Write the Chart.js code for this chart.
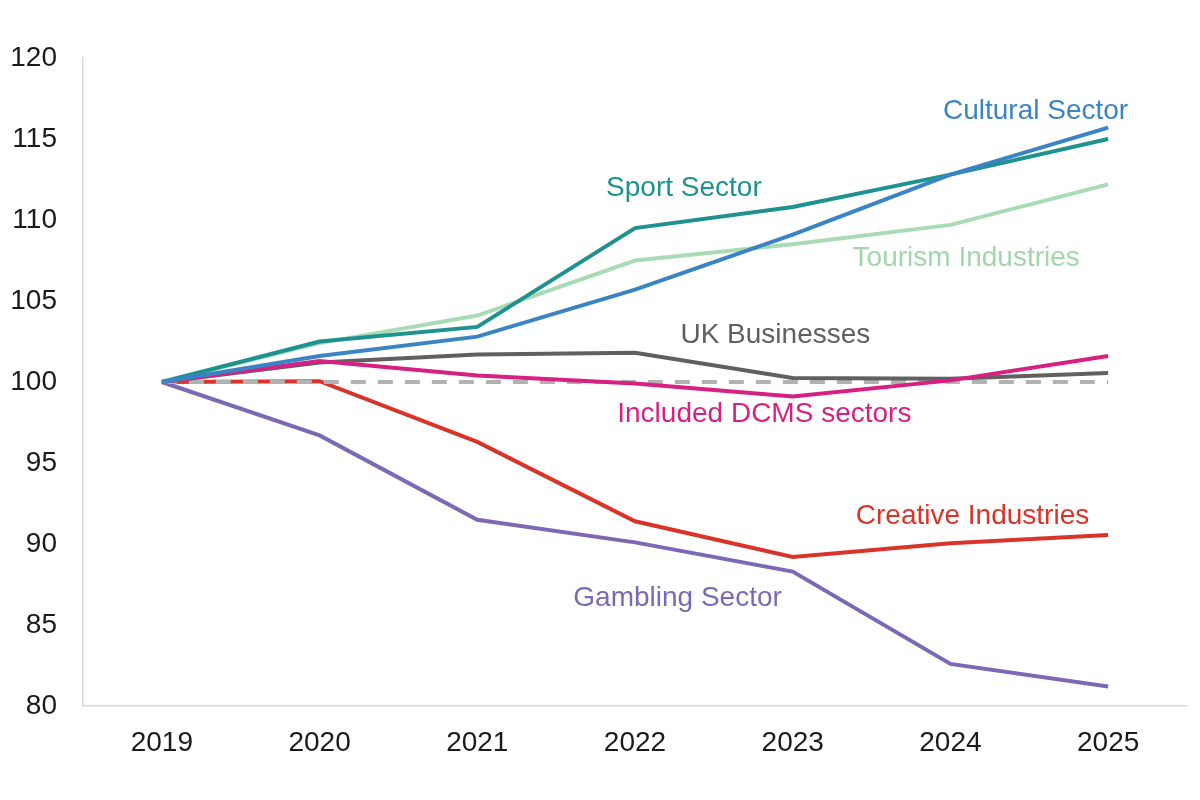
<!DOCTYPE html>
<html>
<head>
<meta charset="utf-8">
<script src="https://cdn.jsdelivr.net/npm/chart.js@4.4.1/dist/chart.umd.min.js"></script>
<style>
  html, body { margin: 0; padding: 0; background: #ffffff; }
  #wrap { width: 1200px; height: 800px; position: relative; }
</style>
</head>
<body>
<div id="wrap"><canvas id="c" width="1200" height="800"></canvas></div>
<script>
const years = ["2019", "2020", "2021", "2022", "2023", "2024", "2025"];
const yTicks = [80, 85, 90, 95, 100, 105, 110, 115, 120];

const culturalSector = [100, 101.6, 102.8, 105.7, 109.1, 112.8, 115.7];
const sportSector = [100, 102.5, 103.4, 109.5, 110.8, 112.8, 115.0];
const tourismIndustries = [100, 102.4, 104.1, 107.5, 108.5, 109.7, 112.2];
const ukBusinesses = [100, 101.2, 101.7, 101.8, 100.25, 100.2, 100.55];
const includedDCMS = [100, 101.3, 100.4, 99.9, 99.1, 100.1, 101.6];
const creativeIndustries = [100, 100.05, 96.3, 91.4, 89.2, 90.05, 90.55];
const gamblingSector = [100, 96.7, 91.5, 90.1, 88.3, 82.6, 81.2];
const baseline = [100, 100, 100, 100, 100, 100, 100];

const seriesNames = ["Cultural Sector", "Sport Sector", "Tourism Industries", "UK Businesses",
                     "Included DCMS sectors", "Creative Industries", "Gambling Sector"];
// label anchor positions in data space (category index, value)
const labelX = [5.54, 3.31, 5.10, 3.89, 3.82, 5.14, 3.27];
const labelY = [116.73, 111.98, 107.65, 102.9, 98.02, 91.73, 86.67];

const colors = {
  cultural: "#3b84c4",
  sport: "#1e928e",
  tourism: "#a9dbb4",
  uk: "#606060",
  dcms: "#d81f82",
  creative: "#d9342a",
  gambling: "#7b69b4",
  base: "#b2b2b2"
};
const labelColors = [colors.cultural, colors.sport, "#a3d6ae", colors.uk, colors.dcms, colors.creative, colors.gambling];

const FONT = "'Liberation Sans', Arial, sans-serif";

function ds(label, data, color, order, extra) {
  return Object.assign({
    label: label, data: data, borderColor: color, backgroundColor: color,
    borderWidth: 4, pointRadius: 0, tension: 0, fill: false, order: order
  }, extra || {});
}

const seriesLabelsPlugin = {
  id: 'seriesLabels',
  afterDatasetsDraw(chart) {
    const ctx = chart.ctx;
    const xs = chart.scales.x, ys = chart.scales.y;
    ctx.save();
    ctx.font = "28px " + FONT;
    ctx.textAlign = "center";
    ctx.textBaseline = "middle";
    for (let i = 0; i < seriesNames.length; i++) {
      ctx.fillStyle = labelColors[i];
      ctx.fillText(seriesNames[i], xs.getPixelForValue(labelX[i]), ys.getPixelForValue(labelY[i]));
    }
    ctx.restore();
  }
};

new Chart(document.getElementById('c'), {
  type: 'line',
  data: {
    labels: years,
    datasets: [
      ds("Sport Sector", sportSector, colors.sport, 2),
      ds("Cultural Sector", culturalSector, colors.cultural, 1),
      ds("Tourism Industries", tourismIndustries, colors.tourism, 3),
      ds("Included DCMS sectors", includedDCMS, colors.dcms, 4),
      ds("UK Businesses", ukBusinesses, colors.uk, 5),
      ds("Baseline", baseline, colors.base, 6, { borderDash: [15, 12], borderWidth: 4 }),
      ds("Creative Industries", creativeIndustries, colors.creative, 7),
      ds("Gambling Sector", gamblingSector, colors.gambling, 8)
    ]
  },
  options: {
    responsive: false,
    animation: false,
    devicePixelRatio: 1,
    layout: { padding: { top: 58, right: 13, left: 0, bottom: 0 } },
    plugins: {
      legend: { display: false },
      tooltip: { enabled: false },
      title: { display: false }
    },
    scales: {
      x: {
        type: 'category',
        offset: true,
        grid: { display: false, drawTicks: false },
        border: { display: true, color: "#d9d9d9", width: 1.5 },
        ticks: { color: "#1a1a1a", font: { family: FONT, size: 28 }, padding: 20, maxRotation: 0 },
        afterFit(scale) { scale.height = 94; }
      },
      y: {
        min: 80, max: 120,
        grid: { display: false, drawTicks: false },
        border: { display: true, color: "#d9d9d9", width: 1.5 },
        ticks: {
          color: "#1a1a1a", font: { family: FONT, size: 28 }, padding: 26,
          stepSize: 5,
          callback: function(v) { return yTicks.includes(v) ? String(v) : null; }
        },
        afterFit(scale) { scale.width = 83; }
      }
    }
  },
  plugins: [seriesLabelsPlugin]
});
</script>
</body>
</html>
